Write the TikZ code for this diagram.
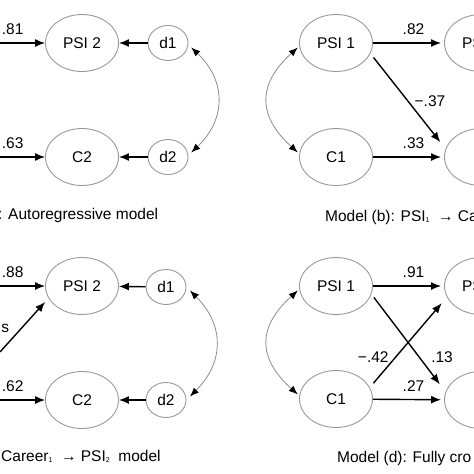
\documentclass[tikz,border=0pt]{standalone}
\usepackage{fontspec}
\setmainfont{Liberation Sans}
\usetikzlibrary{shapes.geometric,arrows.meta}

\newcommand{\idx}[1]{\raisebox{-1pt}{\fontsize{7}{8}\selectfont #1}}

\tikzset{
    latent/.style={ellipse, draw=black!40, line width=0.9pt, minimum width=73pt, minimum height=57pt, inner sep=0pt},
    resid/.style={ellipse, draw=black!40, line width=0.9pt, minimum width=40pt, minimum height=35pt, inner sep=0pt},
    effect/.style={-{Latex[length=10pt,width=8pt]}, line width=1.4pt},
    corr/.style={{Latex[length=9pt,width=7pt,color=black]}-{Latex[length=9pt,width=7pt,color=black]}, draw=black!45, line width=0.8pt},
    coef/.style={inner sep=0pt},
    modeltitle/.style={anchor=base west, inner sep=0pt}
}

\begin{document}
\begin{tikzpicture}[x=1pt, y=-1pt, every node/.style={font=\fontsize{15.5}{18}\selectfont}]
    \useasboundingbox (0,0) rectangle (474,474);
    \clip (0,0) rectangle (474,474);

    % model (a)
    \node [latent] (psi2a) at (82,43) {PSI 2};
    \node [latent] (c2a) at (82,157) {C2};
    \node [resid] (d1a) at (168,43) {d1};
    \node [resid] (d2a) at (168,157) {d2};
    \coordinate (ina1) at (0,43);
    \coordinate (ina2) at (0,157);
    \draw [effect] (ina1) -- node [coef, above=7.5pt, pos=.28] {.81} (psi2a.west);
    \draw [effect] (ina2) -- node [coef, above=7.5pt, pos=.28] {.63} (c2a.west);
    \draw [effect] (d1a) -- (psi2a);
    \draw [effect] (d2a) -- (c2a);
    \draw [corr, shorten <=4pt, shorten >=4pt] (d1a.-5) .. controls +(38,36) and +(38,-36) .. (d2a.5);
    \node [modeltitle] (tita) at (-2,219) {: Autoregressive model};

    % model (b)
    \node [latent] (psi1b) at (336,43) {PSI 1};
    \node [latent] (c1b) at (336,157) {C1};
    \node [latent] (psi2b) at (481,43) {PSI 2};
    \node [latent] (c2b) at (481,157) {};
    \draw [effect, shorten >=3pt] (psi1b) -- node [coef, above=7.5pt, pos=.57] {.82} (psi2b);
    \draw [effect, shorten >=3pt] (c1b) -- node [coef, above=7.5pt, pos=.57] {.33} (c2b);
    \draw [effect, shorten <=5pt, shorten >=8.5pt] (psi1b.-17) -- node [coef, right=6pt, pos=.5] {−.37} (c2b.167);
    \draw [corr, shorten <=2pt, shorten >=2pt] (psi1b.185) .. controls +(-42,38) and +(-42,-38) .. (c1b.175);
    \node [modeltitle] (titb) at (325,221) {Model (b): PSI\idx{1}\ \ → Ca};

    % model (c)
    \node [latent] (psi2c) at (82,286) {PSI 2};
    \node [latent] (c2c) at (82,400) {C2};
    \node [resid] (d1c) at (166,287) {d1};
    \node [resid] (d2c) at (166,400) {d2};
    \coordinate (inc1) at (0,286);
    \coordinate (inc2) at (0,400);
    \coordinate (inc3) at (0,352);
    \draw [effect] (inc1) -- node [coef, above=7.5pt, pos=.28] {.88} (psi2c.west);
    \draw [effect] (inc2) -- node [coef, above=7.5pt, pos=.28] {.62} (c2c.west);
    \draw [effect, shorten >=5pt] (inc3) -- node [coef, left=11pt, pos=.43] {s} (psi2c.200);
    \draw [effect] (d1c) -- (psi2c);
    \draw [effect] (d2c) -- (c2c);
    \draw [corr, shorten <=5pt, shorten >=5pt] (d1c.0) .. controls +(38,38) and +(38,-38) .. (d2c.0);
    \node [modeltitle] (titc) at (1,461) {Career\idx{1}\ \ → PSI\idx{2}\ \ model};

    % model (d)
    \node [latent] (psi1d) at (336,286) {PSI 1};
    \node [latent] (c1d) at (336,399) {C1};
    \node [latent] (psi2d) at (481,286) {PSI 2};
    \node [latent] (c2d) at (481,400) {};
    \draw [effect, shorten >=3pt] (psi1d) -- node [coef, above=7.5pt, pos=.57] {.91} (psi2d);
    \draw [effect, shorten >=3pt] (c1d) -- node [coef, above=7.5pt, pos=.57] {.27} (c2d);
    \draw [effect, shorten <=4pt, shorten >=9.5pt] (psi1d.-13) -- node [coef, right=11pt, pos=.65] {.13} (c2d.167);
    \draw [effect, shorten <=5.5pt, shorten >=8pt] (c1d.19) -- node [coef, left=6pt, pos=.33] {−.42} (psi2d.198);
    \draw [corr, shorten <=2pt, shorten >=2pt] (psi1d.185) .. controls +(-42,38) and +(-42,-38) .. (c1d.175);
    \node [modeltitle] (titd) at (337,462) {Model (d): Fully cro};
\end{tikzpicture}
\end{document}
